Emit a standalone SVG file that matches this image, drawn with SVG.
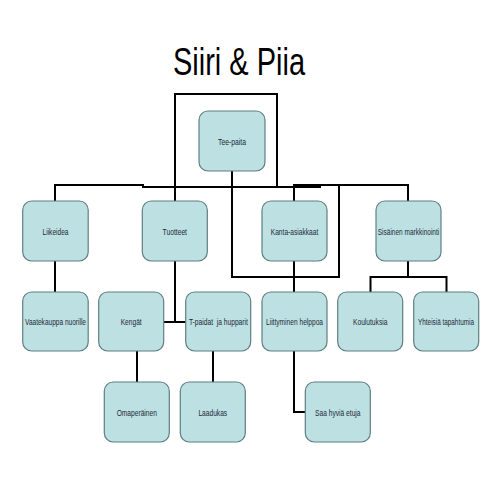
<svg xmlns="http://www.w3.org/2000/svg" width="480" height="480" viewBox="0 0 480 480">
<style>
.box{fill:#bde0e3;stroke:#5f7f82;stroke-width:1.2}
.lbl{font-family:"Liberation Sans",Arial,sans-serif;font-size:9.5px;fill:#1c2a36;text-anchor:middle}
.conn{fill:none;stroke:#000;stroke-width:2}
.title{font-family:"Liberation Sans",Arial,sans-serif;font-size:38px;fill:#000;text-anchor:middle}
</style>
<rect width="480" height="480" fill="#fff"/>
<text class="title" x="239" y="75" textLength="132" lengthAdjust="spacingAndGlyphs">Siiri &amp; Piia</text>
<g id="connectors">
<path class="conn" d="M175,201 V94 H277 V187"/>
<path class="conn" d="M55,201 V185 H143 V187 H321"/>
<path class="conn" d="M294,201 V185 H408 V201"/>
<path class="conn" d="M232,171 V277 H339 V185"/>
<path class="conn" d="M55,261 V292"/>
<path class="conn" d="M175,261 V322 M164,322 H186"/>
<path class="conn" d="M294,261 V292"/>
<path class="conn" d="M408,261 V277 M370.5,292 V277 H446.5 V292"/>
<path class="conn" d="M137,351 V382"/>
<path class="conn" d="M213,351 V382"/>
<path class="conn" d="M294,351 V412 H305"/>
</g>
<g id="tee-paita"><rect class="box" x="199" y="111" width="66" height="60" rx="9"/><text class="lbl" x="232" y="144.5" textLength="28" lengthAdjust="spacingAndGlyphs">Tee-paita</text></g>
<g id="liikeidea"><rect class="box" x="22.7" y="201" width="65.5" height="60" rx="9"/><text class="lbl" x="55.5" y="234.5" textLength="26" lengthAdjust="spacingAndGlyphs">Liikeidea</text></g>
<g id="tuotteet"><rect class="box" x="142.3" y="201" width="65" height="60" rx="9"/><text class="lbl" x="174.8" y="234.5" textLength="24.4" lengthAdjust="spacingAndGlyphs">Tuotteet</text></g>
<g id="kanta-asiakkaat"><rect class="box" x="262" y="201" width="65" height="60" rx="9"/><text class="lbl" x="294.5" y="234.5" textLength="47.5" lengthAdjust="spacingAndGlyphs">Kanta-asiakkaat</text></g>
<g id="sisainen"><rect class="box" x="376" y="201" width="65" height="60" rx="9"/><text class="lbl" x="408.5" y="234.5" textLength="61.5" lengthAdjust="spacingAndGlyphs">Sisäinen markkinointi</text></g>
<g id="vaatekauppa"><rect class="box" x="22.7" y="292" width="65.5" height="59" rx="9"/><text class="lbl" x="55.5" y="325" textLength="61" lengthAdjust="spacingAndGlyphs">Vaatekauppa nuorille</text></g>
<g id="kengat"><rect class="box" x="98.7" y="292" width="65" height="59" rx="9"/><text class="lbl" x="131.2" y="325" textLength="21" lengthAdjust="spacingAndGlyphs">Kengät</text></g>
<g id="t-paidat"><rect class="box" x="185.7" y="292" width="65" height="59" rx="9"/><text class="lbl" x="218.4" y="325" textLength="59" lengthAdjust="spacingAndGlyphs" xml:space="preserve">T-paidat  ja hupparit</text></g>
<g id="liittyminen"><rect class="box" x="262" y="292" width="65" height="59" rx="9"/><text class="lbl" x="294.5" y="325" textLength="57" lengthAdjust="spacingAndGlyphs">Liittyminen helppoa</text></g>
<g id="koulutuksia"><rect class="box" x="337.7" y="292" width="65" height="59" rx="9"/><text class="lbl" x="370.2" y="325" textLength="34.4" lengthAdjust="spacingAndGlyphs">Koulutuksia</text></g>
<g id="yhteisia"><rect class="box" x="413.7" y="292" width="65" height="59" rx="9"/><text class="lbl" transform="translate(446,325) scale(0.67,1)" x="0" y="0">Yhteisiä tapahtumia</text></g>
<g id="omaperainen"><rect class="box" x="104.3" y="382" width="65" height="60" rx="9"/><text class="lbl" x="136.8" y="415.5" textLength="40.3" lengthAdjust="spacingAndGlyphs">Omaperäinen</text></g>
<g id="laadukas"><rect class="box" x="180.3" y="382" width="65" height="60" rx="9"/><text class="lbl" x="212.8" y="415.5" textLength="28.8" lengthAdjust="spacingAndGlyphs">Laadukas</text></g>
<g id="saa-hyvia-etuja"><rect class="box" x="305.3" y="382" width="65" height="60" rx="9"/><text class="lbl" x="337.8" y="415.5" textLength="45.5" lengthAdjust="spacingAndGlyphs">Saa hyviä etuja</text></g>
</svg>
